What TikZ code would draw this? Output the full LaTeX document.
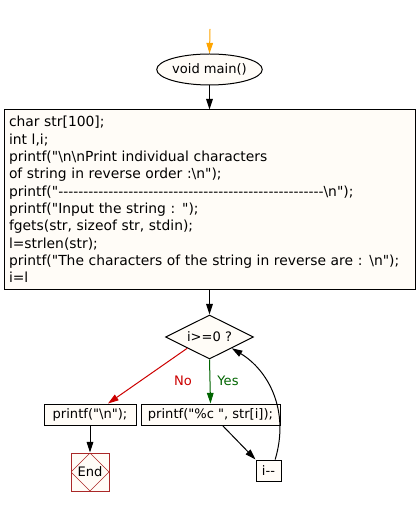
\documentclass[tikz,border=0pt]{standalone}
\usepackage{fontspec}
\setmainfont{DejaVu Sans}[Ligatures=TeXOff]
\usepackage{tikz}
\usetikzlibrary{positioning, arrows.meta, shapes.geometric}
\definecolor{boxfill}{RGB}{255,252,247}
\definecolor{endred}{RGB}{170,40,40}
\definecolor{nored}{RGB}{204,0,0}
\definecolor{yesgreen}{RGB}{0,100,0}
\definecolor{startorange}{RGB}{255,165,0}

\begin{document}
\begin{tikzpicture}[x=0.75pt, y=-0.75pt,
    every node/.style={font=\fontsize{9.8}{13}\selectfont},
    box/.style={draw, line width=0.75pt, fill=boxfill, inner sep=0pt, minimum height=15.75pt},
    flow/.style={line width=0.75pt, -{Triangle[length=8pt, width=5pt]}}]
        \useasboundingbox (0,0) rectangle (417,505);
        \coordinate (S) at (210,29);
        \node (main) [box, ellipse, minimum width=77.25pt, minimum height=23.25pt] at (209.5,69.5) {void main()};
        \node (code) [box, below=18pt of main, text width=300.75pt, inner xsep=3.75pt, minimum height=134.25pt, align=left, font=\fontsize{10.4}{13}\selectfont] {char str[100];\\
int l,i;\\
printf("\textbackslash n\textbackslash nPrint individual characters\\
of string in reverse order :\textbackslash n");\\
printf("-----------------------------------------------------\textbackslash n");\\
printf("Input the string : ");\\
fgets(str, sizeof str, stdin);\\
l=strlen(str);\\
printf("The characters of the string in reverse are : \textbackslash n");\\
i=l};
        \node (cond) [box, diamond, aspect=2, minimum width=66pt, minimum height=33pt, below=18.75pt of code] {i>=0 ?};
        \node (pn) [box, minimum width=69pt] at (90,414.5) {printf("\textbackslash n");};
        \node (pf) [box, minimum width=104.25pt, right=3pt of pn] {printf("\%c  ", str[i]);};
        \node (dec) [box, minimum width=18.75pt] at (268.5,470.5) {i--};
        \node (end) [box, draw=endred, minimum width=28.5pt, minimum height=28.5pt, below=20.25pt of pn,
            path picture={\draw[endred, line width=0.5pt] (path picture bounding box.north) -- (path picture bounding box.east) -- (path picture bounding box.south) -- (path picture bounding box.west) -- cycle;}] {End};
        \draw [flow, startorange] (S) -- (main.north);
        \draw [flow] (main.south) -- (code.north);
        \draw [flow] (code.south) -- (cond.north);
        \draw [flow, nored] (cond.south west) -- ([xshift=13.5pt]pn.north);
        \draw [flow, yesgreen] (cond.south) -- (pf.north);
        \draw [flow] ([xshift=9pt]pf.south) -- (dec.north west);
        \draw [flow] ([xshift=5pt]dec.north) .. controls (290,410) and (268,370) .. (cond.south east);
        \draw [flow] (pn.south) -- (end.north);
        \node (no) [text=nored] at (183,381) {No};
        \node (yes) [text=yesgreen] at (228,381) {Yes};
    \end{tikzpicture}
\end{document}
